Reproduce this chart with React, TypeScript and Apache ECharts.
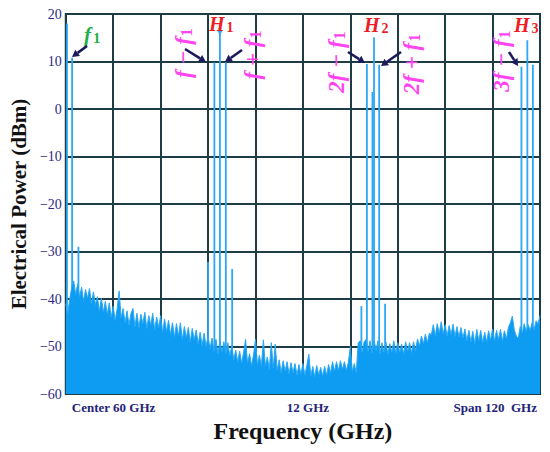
import React, { useEffect, useRef } from "react";
import * as echarts from "echarts";

// Noise floor of the spectrum: start and step of the sweep, then the readings in dBm
const noiseStartGHz = 0;
const noiseStepGHz = 0.5;
const noiseDbm: number[] = [
  -41, -43, -40, -37.5, -36.2, -39, -36.8, -39.5, -37.5, -40.5, -38, -39.8, -37.8, -41, -38.5, -41.2, -39.5, -42.5, -39.8, -42.8, -40.5,
  -43.2, -40.8, -43.8, -41.5, -44.5, -42, -38.3, -44, -42, -45, -42.5, -45.5, -43, -42, -45.8, -43, -46, -43.2, -45.2, -42.8,
  -46.2, -43.5, -45.5, -43, -46.5, -43.8, -46, -43.5, -47, -44.2, -46.8, -44.5, -47.5, -45, -48, -45.2, -47.8, -45, -48.5, -45.8,
  -48.2, -46, -49, -46.2, -48.6, -46.5, -49.5, -47, -49.8, -47.2, -50, -47.8, -50.5, -48.2, -51, -48.5, -51.5, -48.8, -51.2, -49,
  -51.5, -49.2, -52, -49.8, -52.8, -50.8, -53.2, -51, -53.5, -51.2, -48.5, -53.5, -51.5, -54, -51.8, -48.5, -53.8, -51.8, -54.2, -48.6,
  -54, -52.2, -54.8, -49.2, -54.5, -49.5, -55, -52.8, -55.5, -53, -55.2, -53.2, -55.8, -53.4, -55.5, -53.6, -56, -53.8, -55.8, -53.6,
  -56, -54, -51.6, -56.2, -54.2, -56.4, -54, -56, -54.4, -56.2, -54.2, -56, -53.8, -55.6, -53.2, -55.2, -53.2, -55, -53, -54.8,
  -53.2, -55, -53.4, -50, -55.2, -53.6, -55.5, -49.2, -48.8, -51.2, -49, -48.5, -51, -48.8, -51.4, -48.6, -50.8, -48.8, -51.5, -49.2,
  -51.2, -49, -51.6, -49.4, -51.2, -48.8, -51.4, -49.2, -51.2, -49.5, -51.5, -49, -51, -49.2, -51.3, -49, -50.9, -48.4, -49.9, -47.8,
  -49.4, -47.4, -49.2, -47.2, -47.5, -45.4, -47.8, -45.2, -47.2, -44.8, -47.4, -45.4, -47.8, -45.6, -47.5, -45.3, -47.9, -45.8, -48, -46,
  -48.2, -46.3, -48.8, -46.6, -49, -46.8, -49.4, -46.4, -48.8, -46.6, -49.2, -47, -49, -46.7, -48.6, -46.3, -48.8, -46.6, -48.5, -46.4,
  -48.8, -46.7, -48.4, -46, -45, -43.6, -46.5, -47.8, -48.2, -45.8, -47.2, -45.2, -46.8, -45.4, -46.6, -45, -46.5, -44.6, -45.2, -43.5,
];

// Discrete spectral lines (carrier, harmonics, sidebands, spurs)
const spurFreqGHz: number[] = [0.3, 1.6, 3.2, 36.0, 37.6, 39.0, 40.5, 42.1, 74.8, 76.2, 77.6, 78.0, 79.3, 80.8, 115.3, 116.8, 118.2];
const spurPowerDbm: number[] = [18, 10.8, -29, -32.2, 9.8, 16.2, 9.8, -33.7, -41.5, 9.5, 3.6, 15.1, 9.3, -41, 8.9, 14.5, 9.3];

// Analyzer marker on H1
const markerFreqGHz = [39.0];
const markerPowerDbm = [16.2];

// Axis setup
const yMin = -60;
const yMax = 20;
const yStep = 10;
const xMin = 0;
const xMax = 120;
const xStep = 12;
const xLabelTexts: Record<number, string> = { 0: "Center 60 GHz", 60: "12 GHz", 120: "Span 120  GHz" };

const FILL = "#0d9cf2";
const LINE = "#2aa8f6";
const GRID = "#1e3c46";
const NAVY = "#1b1a5c";
const PINK = "#ff45f0";
const RED = "#ee1c24";
const GREEN = "#1fb04a";

function arrow(x1: number, y1: number, x2: number, y2: number) {
  const a = Math.atan2(y2 - y1, x2 - x1);
  const L = 7;
  const W = 4;
  const bx = x2 - L * Math.cos(a);
  const by = y2 - L * Math.sin(a);
  const nx = -Math.sin(a);
  const ny = Math.cos(a);
  return [
    { type: "line", shape: { x1, y1, x2: bx, y2: by }, style: { stroke: NAVY, lineWidth: 2.6 }, z: 50 },
    {
      type: "polygon",
      shape: { points: [[x2, y2], [bx + nx * W, by + ny * W], [bx - nx * W, by - ny * W]] },
      style: { fill: NAVY },
      z: 50,
    },
  ];
}

function pinkLabel(text: string, cx: number, cy: number) {
  return {
    type: "text",
    x: cx,
    y: cy,
    rotation: Math.PI / 2,
    z: 50,
    style: {
      text,
      align: "center",
      verticalAlign: "middle",
      rich: {
        i: { fontFamily: "Liberation Serif", fontStyle: "italic", fontWeight: "bold", fontSize: 23, fill: PINK, verticalAlign: "bottom" },
        s: { fontFamily: "Liberation Serif", fontWeight: "bold", fontSize: 16, fill: PINK, verticalAlign: "bottom", padding: [0, 0, 0, 1] },
      },
    },
  };
}

function subLabel(main: string, sub: string, x: number, y: number, color: string, size: number) {
  return {
    type: "text",
    x,
    y,
    z: 50,
    style: {
      text: `{i|${main}}{s|${sub}}`,
      align: "left",
      verticalAlign: "middle",
      rich: {
        i: { fontFamily: "Liberation Serif", fontStyle: "italic", fontWeight: "bold", fontSize: size, fill: color, verticalAlign: "bottom" },
        s: { fontFamily: "Liberation Serif", fontWeight: "bold", fontSize: Math.round(size * 0.72), fill: color, verticalAlign: "bottom", padding: [0, 0, 0, 2] },
      },
    },
  };
}

export default function App() {
  const ref = useRef<HTMLDivElement>(null);
  useEffect(() => {
    if (!ref.current) return;
    const chart = echarts.init(ref.current, undefined, { renderer: "svg" });
    const noiseData = noiseDbm.map((v, i) => [noiseStartGHz + i * noiseStepGHz, v]);
    const spurData = spurFreqGHz.map((f, i) => [f, spurPowerDbm[i]]);
    const markerData = markerFreqGHz.map((f, i) => [f, markerPowerDbm[i]]);

    const graphics: any[] = [
      subLabel("f", "1", 84, 35, GREEN, 21),
      ...arrow(87, 46, 72, 57),
      subLabel("H", "1", 209, 24, RED, 20),
      subLabel("H", "2", 364, 25, RED, 20),
      subLabel("H", "3", 514, 25, RED, 20),
      pinkLabel("{i|f − f}{s|1}", 183, 53),
      pinkLabel("{i|f + f}{s|1}", 252, 55),
      pinkLabel("{i|2f − f}{s|1}", 336, 62),
      pinkLabel("{i|2f + f}{s|1}", 411, 64),
      pinkLabel("{i|3f − f}{s|1}", 501, 61),
      ...arrow(185, 49, 206, 62),
      ...arrow(242, 50, 225, 62),
      ...arrow(348, 52, 365, 63),
      ...arrow(401, 52, 381, 66),
      ...arrow(509, 52, 518, 66),
    ];

    chart.setOption({
      animation: false,
      backgroundColor: "#ffffff",
      grid: {
        left: 61,
        top: 14,
        width: 479,
        height: 380,
        show: true,
        borderColor: "#15262e",
        borderWidth: 2,
        backgroundColor: "#ffffff",
      },
      xAxis: {
        type: "value",
        min: xMin,
        max: xMax,
        interval: xStep,
        name: "Frequency (GHz)",
        nameLocation: "middle",
        nameGap: 24,
        nameTextStyle: { fontFamily: "Liberation Serif", fontWeight: "bold", fontSize: 24, color: "#111111" },
        axisLine: { show: false },
        axisTick: { show: false },
        splitLine: { show: true, lineStyle: { color: GRID, width: 2 } },
        axisLabel: {
          margin: 7,
          showMinLabel: true,
          showMaxLabel: true,
          alignMinLabel: "left",
          alignMaxLabel: "right",
          formatter: (v: number) => {
            const t = xLabelTexts[v];
            if (!t) return "";
            if (v === xMin) return `{l|${t}}`;
            if (v === xMax) return `{r|${t}}`;
            return `{c|${t}}`;
          },
          rich: {
            l: { fontFamily: "Liberation Serif", fontWeight: "bold", fontSize: 13, color: "#23237a", padding: [0, 0, 0, 6] },
            c: { fontFamily: "Liberation Serif", fontWeight: "bold", fontSize: 13, color: "#23237a", padding: [0, 0, 0, 10] },
            r: { fontFamily: "Liberation Serif", fontWeight: "bold", fontSize: 13, color: "#23237a", padding: [0, 3, 0, 0] },
          },
        },
      },
      yAxis: {
        type: "value",
        min: yMin,
        max: yMax,
        interval: yStep,
        name: "Electrical Power (dBm)",
        nameLocation: "middle",
        nameRotate: 90,
        nameGap: 31,
        nameTextStyle: { fontFamily: "Liberation Serif", fontWeight: "bold", fontSize: 21, color: "#111111" },
        axisLine: { show: false },
        axisTick: { show: false },
        splitLine: { show: true, lineStyle: { color: GRID, width: 2 } },
        axisLabel: {
          margin: 4,
          fontFamily: "Liberation Serif",
          fontSize: 14,
          color: "#2a2a86",
          formatter: (v: number) => (v < 0 ? "−" + Math.abs(v) : String(v)),
        },
      },
      series: [
        {
          type: "custom",
          data: spurData,
          encode: { x: 0, y: 1 },
          z: 1,
          renderItem: (_p: any, api: any) => {
            const x = api.value(0);
            const y = api.value(1);
            const p0 = api.coord([x, yMin]);
            const p1 = api.coord([x, y]);
            return {
              type: "line",
              shape: { x1: p0[0], y1: p0[1], x2: p1[0], y2: p1[1] },
              style: { stroke: LINE, lineWidth: 1.8 },
            };
          },
        },
        {
          type: "line",
          data: noiseData,
          showSymbol: false,
          symbol: "none",
          lineStyle: { color: LINE, width: 1 },
          areaStyle: { color: FILL, opacity: 1, origin: "start" },
          z: 2,
        },
        {
          type: "custom",
          data: markerData,
          encode: { x: 0, y: 1 },
          z: 4,
          renderItem: (_p: any, api: any) => {
            const p = api.coord([api.value(0), api.value(1)]);
            return {
              type: "polygon",
              shape: { points: [[p[0] - 3, p[1] - 2], [p[0] + 3, p[1] - 2], [p[0], p[1] + 3]] },
              style: { fill: LINE },
            };
          },
        },
      ],
      graphic: graphics,
    });
    return () => chart.dispose();
  }, []);
  return <div ref={ref} style={{ position: "fixed", left: 0, top: 0, width: 550, height: 452, background: "#fff" }} />;
}
